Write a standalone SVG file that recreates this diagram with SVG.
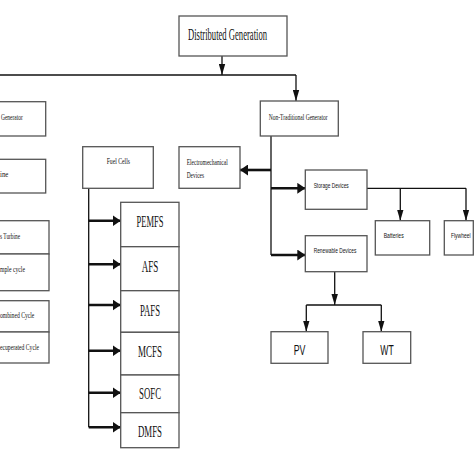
<svg xmlns="http://www.w3.org/2000/svg" width="474" height="474" viewBox="0 0 474 474">
<style>
.box{fill:#fff;stroke:#555;stroke-width:1.3}
.ln{fill:none;stroke:#111;stroke-width:1.3}
.tk{fill:none;stroke:#111;stroke-width:2.6}
.s{font-family:"Liberation Serif",serif;fill:#111}
.a{font-family:"Liberation Sans",sans-serif;fill:#111}
</style>
<defs>
<marker id="ah" viewBox="0 0 12 7" refX="12" refY="3.5" markerUnits="userSpaceOnUse" markerWidth="11" markerHeight="7" orient="auto"><path d="M0,0 L12,3.5 L0,7 z" fill="#111"/></marker>
<marker id="at" viewBox="0 0 8 11" refX="8" refY="5.5" markerUnits="userSpaceOnUse" markerWidth="8" markerHeight="11" orient="auto"><path d="M0,0 L8,5.5 L0,11 z" fill="#111"/></marker>
</defs>
<rect width="474" height="474" fill="#fff"/>
<g id="connectors">
<path class="ln" d="M0,75 H296"/>
<path class="ln" d="M222,56 V75" marker-end="url(#ah)"/>
<path class="ln" d="M296,75 V101" marker-end="url(#ah)"/>
<path class="ln" d="M271,136 V255"/>
<path class="tk" d="M271,170 H240" marker-end="url(#at)"/>
<path class="tk" d="M271,188.3 H305.3" marker-end="url(#at)"/>
<path class="tk" d="M271,255 H305.3" marker-end="url(#at)"/>
<path class="ln" d="M367,188.3 H466"/>
<path class="ln" d="M400.3,188.3 V220.7" marker-end="url(#ah)"/>
<path class="ln" d="M466,188.3 V220.7" marker-end="url(#ah)"/>
<path class="ln" d="M334.7,271.7 V305" marker-end="url(#ah)"/>
<path class="ln" d="M306.3,305 H381.3"/>
<path class="ln" d="M306.3,305 V331.7" marker-end="url(#ah)"/>
<path class="ln" d="M381.3,305 V331.7" marker-end="url(#ah)"/>
<path class="ln" d="M88.7,188.3 V427.3"/>
<path class="tk" d="M88.7,220.7 H120.7" marker-end="url(#at)"/>
<path class="tk" d="M88.7,264.3 H120.7" marker-end="url(#at)"/>
<path class="tk" d="M88.7,305 H120.7" marker-end="url(#at)"/>
<path class="tk" d="M88.7,350.7 H120.7" marker-end="url(#at)"/>
<path class="tk" d="M88.7,392.7 H120.7" marker-end="url(#at)"/>
<path class="tk" d="M88.7,427.3 H120.7" marker-end="url(#at)"/>
</g>
<g id="dg"><rect class="box" x="179" y="16" width="108" height="40"/><text class="s" x="188" y="40" font-size="16" textLength="79" lengthAdjust="spacingAndGlyphs">Distributed Generation</text></g>
<g id="ntg"><rect class="box" x="260.3" y="101" width="78" height="35"/><text class="s" x="268.7" y="119.5" font-size="8.5" textLength="59" lengthAdjust="spacingAndGlyphs">Non-Traditional Generator</text></g>
<g id="tg"><rect class="box" x="-5" y="101.7" width="50.7" height="34.3"/><text class="s" x="1" y="119.5" font-size="8.5" textLength="21.7" lengthAdjust="spacingAndGlyphs">Generator</text></g>
<g id="mt"><rect class="box" x="-5" y="159.3" width="50.7" height="33.7"/><text class="s" x="0" y="176.7" font-size="8.5" textLength="8.3" lengthAdjust="spacingAndGlyphs">ine</text></g>
<g id="gt"><rect class="box" x="-5" y="220.7" width="54" height="33.3"/><text class="s" x="0" y="239" font-size="8.5" textLength="20" lengthAdjust="spacingAndGlyphs">s Turbine</text></g>
<g id="sc"><rect class="box" x="-5" y="254" width="54" height="36.7"/><text class="s" x="0" y="272" font-size="8.5" textLength="25" lengthAdjust="spacingAndGlyphs">mple cycle</text></g>
<g id="cc"><rect class="box" x="-5" y="300.7" width="54" height="31.3"/><text class="s" x="0" y="318.3" font-size="8.5" textLength="34.3" lengthAdjust="spacingAndGlyphs">ombined Cycle</text></g>
<g id="rc"><rect class="box" x="-5" y="332" width="54" height="31"/><text class="s" x="0" y="350" font-size="8.5" textLength="39" lengthAdjust="spacingAndGlyphs">ecuperated Cycle</text></g>
<g id="fc"><rect class="box" x="82.7" y="146.7" width="70.6" height="41.6"/><text class="s" x="106.7" y="164.3" font-size="8.5" textLength="23.3" lengthAdjust="spacingAndGlyphs">Fuel Cells</text></g>
<g id="em"><rect class="box" x="179" y="146.7" width="61" height="41.6"/><text class="s" x="186.7" y="165" font-size="8.5" textLength="41" lengthAdjust="spacingAndGlyphs">Electromechanical</text><text class="s" x="186.7" y="178.3" font-size="8.5" textLength="17.3" lengthAdjust="spacingAndGlyphs">Devices</text></g>
<g id="sd"><rect class="box" x="305.3" y="170" width="61.7" height="39.3"/><text class="a" x="313.7" y="188.3" font-size="8" textLength="35" lengthAdjust="spacingAndGlyphs">Storage Devices</text></g>
<g id="rd"><rect class="box" x="305.3" y="235.7" width="61.7" height="36"/><text class="a" x="313.7" y="253.3" font-size="8" textLength="42.6" lengthAdjust="spacingAndGlyphs">Renewable Devices</text></g>
<g id="bat"><rect class="box" x="375.3" y="220.7" width="54.4" height="34.3"/><text class="a" x="383.7" y="238.3" font-size="8" textLength="20" lengthAdjust="spacingAndGlyphs">Batteries</text></g>
<g id="fw"><rect class="box" x="444.3" y="220.7" width="29" height="34.3"/><text class="a" transform="translate(451,237.8) scale(0.62,1)" font-size="8">Flywheel</text></g>
<g id="pv"><rect class="box" x="271" y="331.7" width="57" height="31.6"/><text class="a" x="293.7" y="355" font-size="15" textLength="11.7" lengthAdjust="spacingAndGlyphs">PV</text></g>
<g id="wt"><rect class="box" x="363" y="331.7" width="47.7" height="31.6"/><text class="a" x="380.3" y="355" font-size="15" textLength="13.4" lengthAdjust="spacingAndGlyphs">WT</text></g>
<g id="pemfs"><rect class="box" x="120.7" y="202.3" width="58.3" height="44.4"/><text class="s" x="136.5" y="227.3" font-size="17" textLength="27" lengthAdjust="spacingAndGlyphs">PEMFS</text></g>
<g id="afs"><rect class="box" x="120.7" y="246.7" width="58.3" height="44"/><text class="s" x="141.7" y="271.7" font-size="17" textLength="16.6" lengthAdjust="spacingAndGlyphs">AFS</text></g>
<g id="pafs"><rect class="box" x="120.7" y="290.7" width="58.3" height="41.6"/><text class="s" x="140" y="315.7" font-size="17" textLength="20" lengthAdjust="spacingAndGlyphs">PAFS</text></g>
<g id="mcfs"><rect class="box" x="120.7" y="332.3" width="58.3" height="42.7"/><text class="s" x="138" y="356.7" font-size="17" textLength="24" lengthAdjust="spacingAndGlyphs">MCFS</text></g>
<g id="sofc"><rect class="box" x="120.7" y="375" width="58.3" height="37.7"/><text class="s" x="139" y="399" font-size="17" textLength="22" lengthAdjust="spacingAndGlyphs">SOFC</text></g>
<g id="dmfs"><rect class="box" x="120.7" y="412.7" width="58.3" height="35"/><text class="s" x="138" y="436.7" font-size="17" textLength="24" lengthAdjust="spacingAndGlyphs">DMFS</text></g>
</svg>
